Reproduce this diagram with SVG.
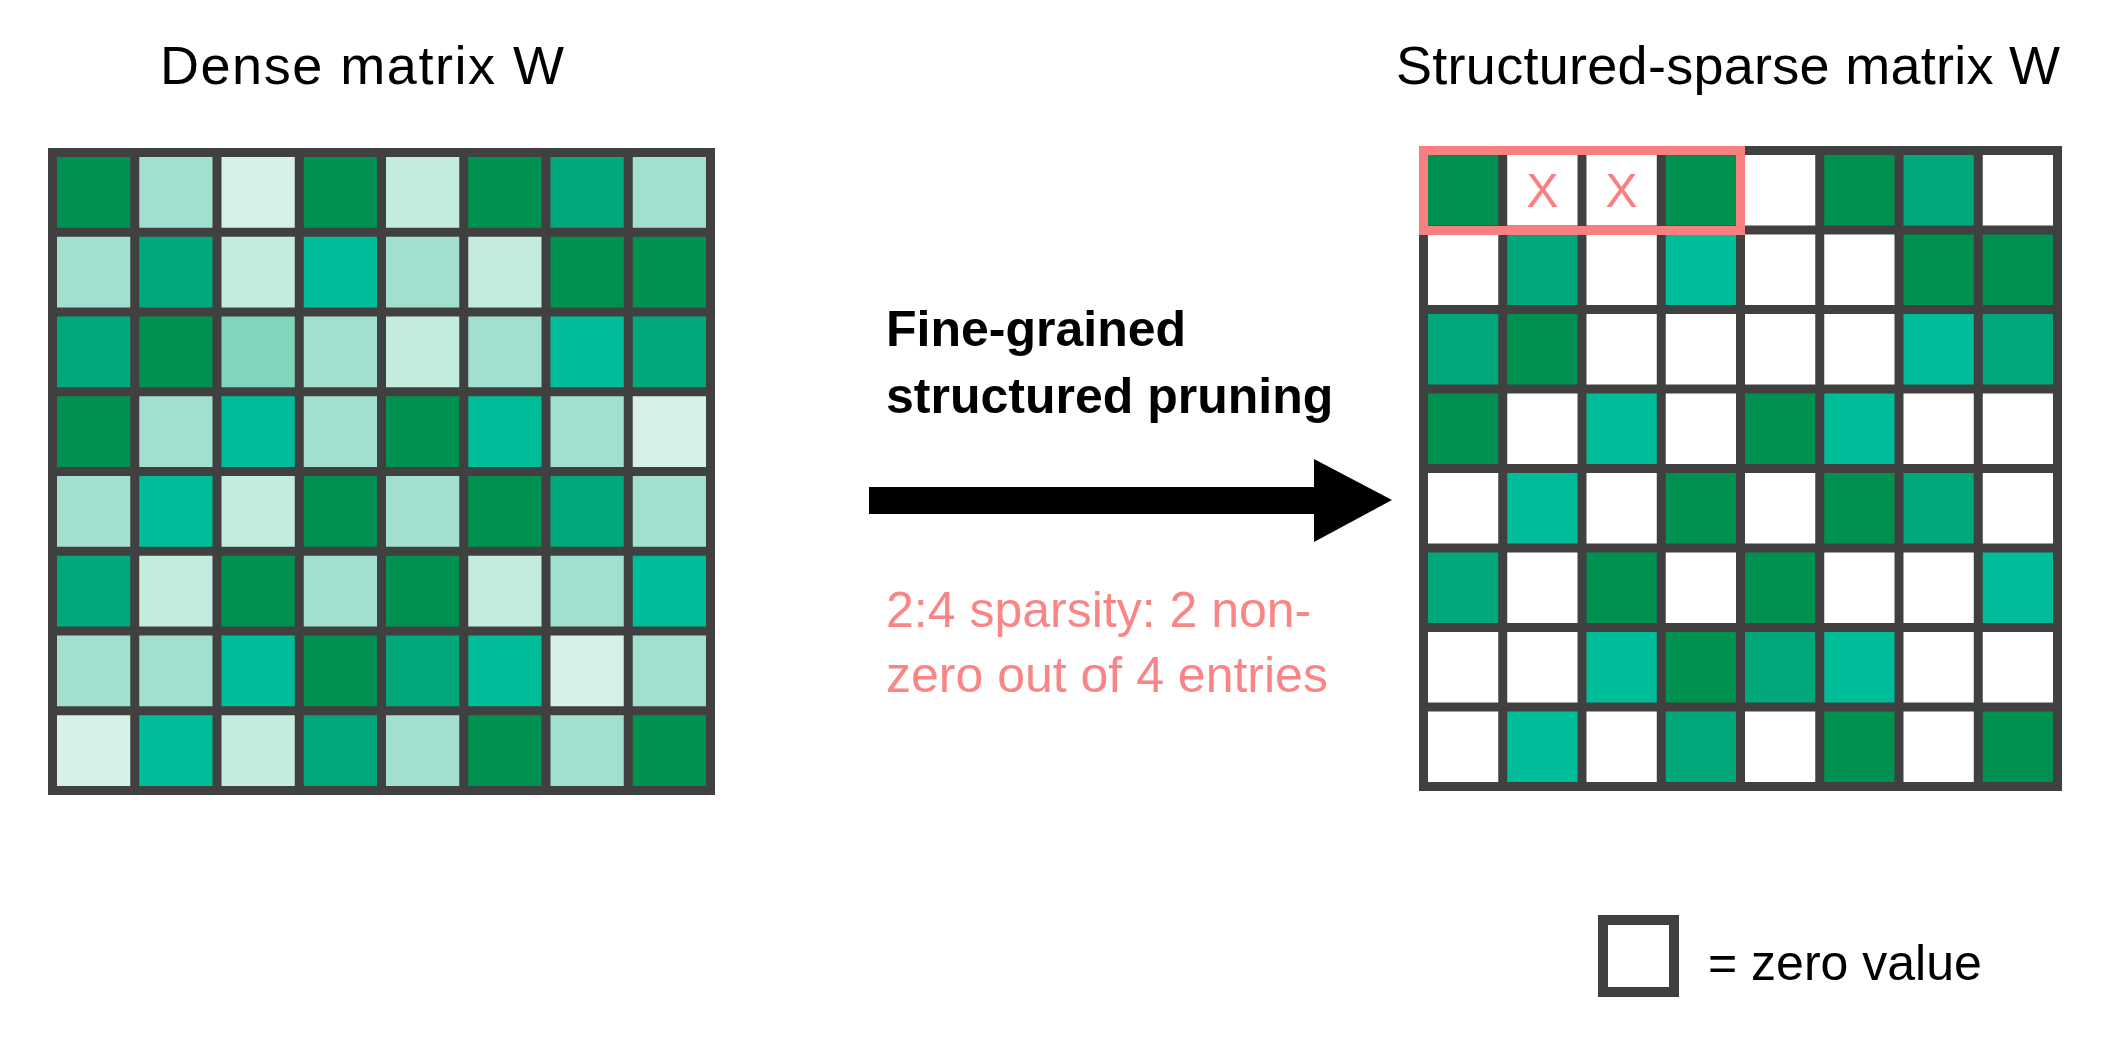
<svg xmlns="http://www.w3.org/2000/svg" width="2124" height="1042" viewBox="0 0 2124 1042">
<style>
text{font-family:"Liberation Sans",Arial,sans-serif}
.D{fill:#009150}.M{fill:#00A87B}.T{fill:#00BD99}.L{fill:#A3DFCE}.P{fill:#C3EBDE}.W{fill:#D7F0E8}.X{fill:#80D6BC}.Z{fill:#ffffff}
.bg{fill:#404040}
.title{font-size:54px;fill:#000}
.bold{font-size:50px;font-weight:bold;fill:#000}
.pink{font-size:50px;fill:#F98686}
</style>
<rect width="2124" height="1042" fill="#fff"/>
<text class="title" x="160" y="84" textLength="404">Dense matrix W</text>
<text class="title" x="1396" y="84" textLength="664">Structured-sparse matrix W</text>
<g id="dense">
<rect class="bg" x="48" y="148" width="667" height="647"/>
<g id="dense-cells"></g>
</g>
<g id="sparse">
<rect class="bg" x="1419" y="146" width="643" height="645"/>
</g>
<g id="arrow">
<rect x="869" y="487" width="447" height="27" fill="#000"/>
<polygon points="1314,459 1392,500 1314,542" fill="#000"/>
</g>
<g id="labels">
<text class="bold" x="886" y="346">Fine-grained</text>
<text class="bold" x="886" y="413">structured pruning</text>
<text class="pink" x="886" y="627">2:4 sparsity: 2 non-</text>
<text class="pink" x="886" y="692">zero out of 4 entries</text>
</g>
<g id="legend">
<rect x="1603" y="920" width="71" height="72" fill="#fff" stroke="#404040" stroke-width="10"/>
<text x="1708" y="980" style="font-size:50px" fill="#000">= zero value</text>
</g>
<!-- dense cells: pitch x 82.25, y 79.75, gap 9 -->
<g id="dense-grid">
<rect class="D" x="57" y="157" width="73.25" height="70.75"/><rect class="L" x="139.25" y="157" width="73.25" height="70.75"/><rect class="W" x="221.5" y="157" width="73.25" height="70.75"/><rect class="D" x="303.75" y="157" width="73.25" height="70.75"/><rect class="P" x="386" y="157" width="73.25" height="70.75"/><rect class="D" x="468.25" y="157" width="73.25" height="70.75"/><rect class="M" x="550.5" y="157" width="73.25" height="70.75"/><rect class="L" x="632.75" y="157" width="73.25" height="70.75"/>
<rect class="L" x="57" y="236.75" width="73.25" height="70.75"/><rect class="M" x="139.25" y="236.75" width="73.25" height="70.75"/><rect class="P" x="221.5" y="236.75" width="73.25" height="70.75"/><rect class="T" x="303.75" y="236.75" width="73.25" height="70.75"/><rect class="L" x="386" y="236.75" width="73.25" height="70.75"/><rect class="P" x="468.25" y="236.75" width="73.25" height="70.75"/><rect class="D" x="550.5" y="236.75" width="73.25" height="70.75"/><rect class="D" x="632.75" y="236.75" width="73.25" height="70.75"/>
<rect class="M" x="57" y="316.5" width="73.25" height="70.75"/><rect class="D" x="139.25" y="316.5" width="73.25" height="70.75"/><rect class="X" x="221.5" y="316.5" width="73.25" height="70.75"/><rect class="L" x="303.75" y="316.5" width="73.25" height="70.75"/><rect class="P" x="386" y="316.5" width="73.25" height="70.75"/><rect class="L" x="468.25" y="316.5" width="73.25" height="70.75"/><rect class="T" x="550.5" y="316.5" width="73.25" height="70.75"/><rect class="M" x="632.75" y="316.5" width="73.25" height="70.75"/>
<rect class="D" x="57" y="396.25" width="73.25" height="70.75"/><rect class="L" x="139.25" y="396.25" width="73.25" height="70.75"/><rect class="T" x="221.5" y="396.25" width="73.25" height="70.75"/><rect class="L" x="303.75" y="396.25" width="73.25" height="70.75"/><rect class="D" x="386" y="396.25" width="73.25" height="70.75"/><rect class="T" x="468.25" y="396.25" width="73.25" height="70.75"/><rect class="L" x="550.5" y="396.25" width="73.25" height="70.75"/><rect class="W" x="632.75" y="396.25" width="73.25" height="70.75"/>
<rect class="L" x="57" y="476" width="73.25" height="70.75"/><rect class="T" x="139.25" y="476" width="73.25" height="70.75"/><rect class="P" x="221.5" y="476" width="73.25" height="70.75"/><rect class="D" x="303.75" y="476" width="73.25" height="70.75"/><rect class="L" x="386" y="476" width="73.25" height="70.75"/><rect class="D" x="468.25" y="476" width="73.25" height="70.75"/><rect class="M" x="550.5" y="476" width="73.25" height="70.75"/><rect class="L" x="632.75" y="476" width="73.25" height="70.75"/>
<rect class="M" x="57" y="555.75" width="73.25" height="70.75"/><rect class="P" x="139.25" y="555.75" width="73.25" height="70.75"/><rect class="D" x="221.5" y="555.75" width="73.25" height="70.75"/><rect class="L" x="303.75" y="555.75" width="73.25" height="70.75"/><rect class="D" x="386" y="555.75" width="73.25" height="70.75"/><rect class="P" x="468.25" y="555.75" width="73.25" height="70.75"/><rect class="L" x="550.5" y="555.75" width="73.25" height="70.75"/><rect class="T" x="632.75" y="555.75" width="73.25" height="70.75"/>
<rect class="L" x="57" y="635.5" width="73.25" height="70.75"/><rect class="L" x="139.25" y="635.5" width="73.25" height="70.75"/><rect class="T" x="221.5" y="635.5" width="73.25" height="70.75"/><rect class="D" x="303.75" y="635.5" width="73.25" height="70.75"/><rect class="M" x="386" y="635.5" width="73.25" height="70.75"/><rect class="T" x="468.25" y="635.5" width="73.25" height="70.75"/><rect class="W" x="550.5" y="635.5" width="73.25" height="70.75"/><rect class="L" x="632.75" y="635.5" width="73.25" height="70.75"/>
<rect class="W" x="57" y="715.25" width="73.25" height="70.75"/><rect class="T" x="139.25" y="715.25" width="73.25" height="70.75"/><rect class="P" x="221.5" y="715.25" width="73.25" height="70.75"/><rect class="M" x="303.75" y="715.25" width="73.25" height="70.75"/><rect class="L" x="386" y="715.25" width="73.25" height="70.75"/><rect class="D" x="468.25" y="715.25" width="73.25" height="70.75"/><rect class="L" x="550.5" y="715.25" width="73.25" height="70.75"/><rect class="D" x="632.75" y="715.25" width="73.25" height="70.75"/>
</g>
<!-- sparse cells: pitch x 79.25, y 79.5, gap 9 -->
<g id="sparse-grid">
<rect class="D" x="1428" y="155" width="70.25" height="70.5"/><rect class="Z" x="1507.25" y="155" width="70.25" height="70.5"/><rect class="Z" x="1586.5" y="155" width="70.25" height="70.5"/><rect class="D" x="1665.75" y="155" width="70.25" height="70.5"/><rect class="Z" x="1745" y="155" width="70.25" height="70.5"/><rect class="D" x="1824.25" y="155" width="70.25" height="70.5"/><rect class="M" x="1903.5" y="155" width="70.25" height="70.5"/><rect class="Z" x="1982.75" y="155" width="70.25" height="70.5"/>
<rect class="Z" x="1428" y="234.5" width="70.25" height="70.5"/><rect class="M" x="1507.25" y="234.5" width="70.25" height="70.5"/><rect class="Z" x="1586.5" y="234.5" width="70.25" height="70.5"/><rect class="T" x="1665.75" y="234.5" width="70.25" height="70.5"/><rect class="Z" x="1745" y="234.5" width="70.25" height="70.5"/><rect class="Z" x="1824.25" y="234.5" width="70.25" height="70.5"/><rect class="D" x="1903.5" y="234.5" width="70.25" height="70.5"/><rect class="D" x="1982.75" y="234.5" width="70.25" height="70.5"/>
<rect class="M" x="1428" y="314" width="70.25" height="70.5"/><rect class="D" x="1507.25" y="314" width="70.25" height="70.5"/><rect class="Z" x="1586.5" y="314" width="70.25" height="70.5"/><rect class="Z" x="1665.75" y="314" width="70.25" height="70.5"/><rect class="Z" x="1745" y="314" width="70.25" height="70.5"/><rect class="Z" x="1824.25" y="314" width="70.25" height="70.5"/><rect class="T" x="1903.5" y="314" width="70.25" height="70.5"/><rect class="M" x="1982.75" y="314" width="70.25" height="70.5"/>
<rect class="D" x="1428" y="393.5" width="70.25" height="70.5"/><rect class="Z" x="1507.25" y="393.5" width="70.25" height="70.5"/><rect class="T" x="1586.5" y="393.5" width="70.25" height="70.5"/><rect class="Z" x="1665.75" y="393.5" width="70.25" height="70.5"/><rect class="D" x="1745" y="393.5" width="70.25" height="70.5"/><rect class="T" x="1824.25" y="393.5" width="70.25" height="70.5"/><rect class="Z" x="1903.5" y="393.5" width="70.25" height="70.5"/><rect class="Z" x="1982.75" y="393.5" width="70.25" height="70.5"/>
<rect class="Z" x="1428" y="473" width="70.25" height="70.5"/><rect class="T" x="1507.25" y="473" width="70.25" height="70.5"/><rect class="Z" x="1586.5" y="473" width="70.25" height="70.5"/><rect class="D" x="1665.75" y="473" width="70.25" height="70.5"/><rect class="Z" x="1745" y="473" width="70.25" height="70.5"/><rect class="D" x="1824.25" y="473" width="70.25" height="70.5"/><rect class="M" x="1903.5" y="473" width="70.25" height="70.5"/><rect class="Z" x="1982.75" y="473" width="70.25" height="70.5"/>
<rect class="M" x="1428" y="552.5" width="70.25" height="70.5"/><rect class="Z" x="1507.25" y="552.5" width="70.25" height="70.5"/><rect class="D" x="1586.5" y="552.5" width="70.25" height="70.5"/><rect class="Z" x="1665.75" y="552.5" width="70.25" height="70.5"/><rect class="D" x="1745" y="552.5" width="70.25" height="70.5"/><rect class="Z" x="1824.25" y="552.5" width="70.25" height="70.5"/><rect class="Z" x="1903.5" y="552.5" width="70.25" height="70.5"/><rect class="T" x="1982.75" y="552.5" width="70.25" height="70.5"/>
<rect class="Z" x="1428" y="632" width="70.25" height="70.5"/><rect class="Z" x="1507.25" y="632" width="70.25" height="70.5"/><rect class="T" x="1586.5" y="632" width="70.25" height="70.5"/><rect class="D" x="1665.75" y="632" width="70.25" height="70.5"/><rect class="M" x="1745" y="632" width="70.25" height="70.5"/><rect class="T" x="1824.25" y="632" width="70.25" height="70.5"/><rect class="Z" x="1903.5" y="632" width="70.25" height="70.5"/><rect class="Z" x="1982.75" y="632" width="70.25" height="70.5"/>
<rect class="Z" x="1428" y="711.5" width="70.25" height="70.5"/><rect class="T" x="1507.25" y="711.5" width="70.25" height="70.5"/><rect class="Z" x="1586.5" y="711.5" width="70.25" height="70.5"/><rect class="M" x="1665.75" y="711.5" width="70.25" height="70.5"/><rect class="Z" x="1745" y="711.5" width="70.25" height="70.5"/><rect class="D" x="1824.25" y="711.5" width="70.25" height="70.5"/><rect class="Z" x="1903.5" y="711.5" width="70.25" height="70.5"/><rect class="D" x="1982.75" y="711.5" width="70.25" height="70.5"/>
</g>
<g id="highlight">
<rect x="1423.5" y="150.5" width="317" height="80" fill="none" stroke="#F88080" stroke-width="9"/>
<text x="1542.4" y="207" text-anchor="middle" style="font-size:48px" fill="#F88080">X</text>
<text x="1621.6" y="207" text-anchor="middle" style="font-size:48px" fill="#F88080">X</text>
</g>
</svg>
